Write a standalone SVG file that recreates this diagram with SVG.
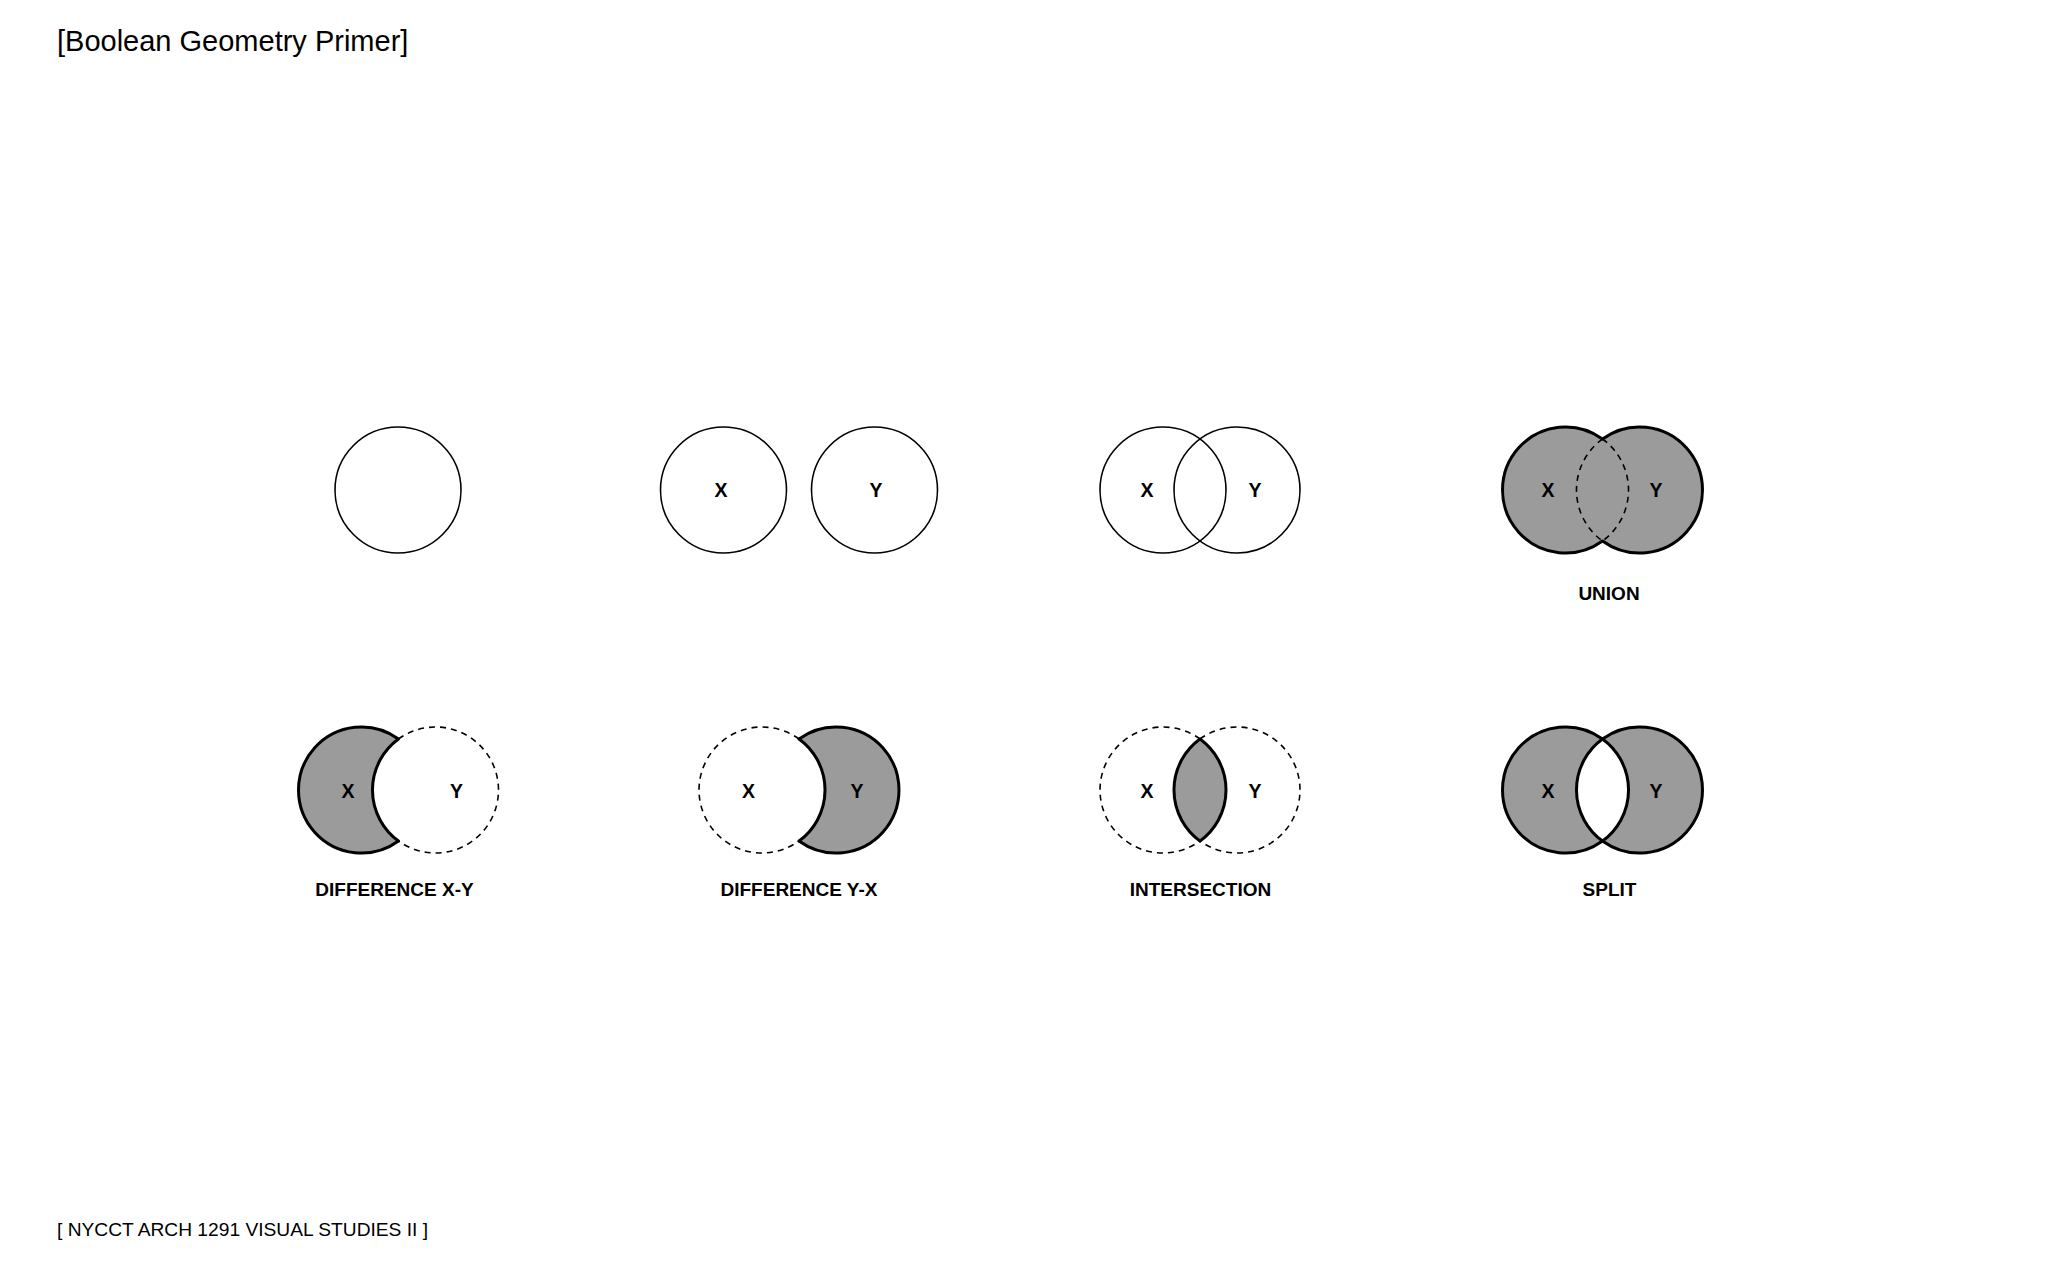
<svg xmlns="http://www.w3.org/2000/svg" width="2048" height="1280" viewBox="0 0 2048 1280">
<style>
.bg{fill:#ffffff}
.plain{fill:none;stroke:#000;stroke-width:1.6}
.solid{fill:#9b9b9b;stroke:#000;stroke-width:3;stroke-linejoin:round}
.dash{fill:none;stroke:#000;stroke-width:1.6;stroke-dasharray:6 5}
.lbl{font-family:"Liberation Sans",Arial,sans-serif;font-weight:bold;font-size:19.5px;text-anchor:middle;fill:#000}
.cap{font-family:"Liberation Sans",Arial,sans-serif;font-weight:bold;font-size:19px;text-anchor:middle;fill:#000}
.title{font-family:"Liberation Sans",Arial,sans-serif;font-size:29px;fill:#000}
.foot{font-family:"Liberation Sans",Arial,sans-serif;font-size:19.2px;fill:#000}
</style>
<rect class="bg" x="0" y="0" width="2048" height="1280"/>
<text id="title" class="title" x="57" y="51">[Boolean Geometry Primer]</text>
<text id="footer" class="foot" x="57" y="1236">[ NYCCT ARCH 1291 VISUAL STUDIES II ]</text>

<g id="single">
<circle class="plain" cx="398" cy="490" r="63"/>
</g>

<g id="pair">
<circle class="plain" cx="723.5" cy="490" r="63"/>
<circle class="plain" cx="874.5" cy="490" r="63"/>
<text class="lbl" x="721" y="497">X</text>
<text class="lbl" x="876" y="497">Y</text>
</g>

<g id="overlap">
<circle class="plain" cx="1163" cy="490" r="63"/>
<circle class="plain" cx="1237" cy="490" r="63"/>
<text class="lbl" x="1147" y="497">X</text>
<text class="lbl" x="1255" y="497">Y</text>
</g>

<g id="union">
<path class="solid" d="M1602.5,439 A63,63 0 1 0 1602.5,541 A63,63 0 1 0 1602.5,439 Z"/>
<path class="dash" d="M1602.5,439 A63,63 0 0 1 1602.5,541 A63,63 0 0 1 1602.5,439 Z"/>
<text class="lbl" x="1548" y="497">X</text>
<text class="lbl" x="1656" y="497">Y</text>
<text class="cap" x="1609" y="600">UNION</text>
</g>

<g id="difference-x-y">
<path class="dash" d="M398.5,739 A63,63 0 1 1 398.5,841"/>
<path class="solid" d="M398.5,739 A63,63 0 1 0 398.5,841 A63,63 0 0 1 398.5,739 Z"/>
<text class="lbl" x="348" y="798">X</text>
<text class="lbl" x="456.5" y="798">Y</text>
<text class="cap" x="394.5" y="896">DIFFERENCE X-Y</text>
</g>

<g id="difference-y-x">
<path class="dash" d="M799,739 A63,63 0 1 0 799,841"/>
<path class="solid" d="M799,739 A63,63 0 1 1 799,841 A63,63 0 0 0 799,739 Z"/>
<text class="lbl" x="748.5" y="798">X</text>
<text class="lbl" x="857" y="798">Y</text>
<text class="cap" x="799" y="896">DIFFERENCE Y-X</text>
</g>

<g id="intersection">
<path class="dash" d="M1200,739 A63,63 0 1 0 1200,841"/>
<path class="dash" d="M1200,739 A63,63 0 1 1 1200,841"/>
<path class="solid" d="M1200,739 A63,63 0 0 1 1200,841 A63,63 0 0 1 1200,739 Z"/>
<text class="lbl" x="1147" y="798">X</text>
<text class="lbl" x="1255" y="798">Y</text>
<text class="cap" x="1200.5" y="896">INTERSECTION</text>
</g>

<g id="split">
<path class="solid" d="M1602.5,739 A63,63 0 1 0 1602.5,841 A63,63 0 0 1 1602.5,739 Z"/>
<path class="solid" d="M1602.5,739 A63,63 0 1 1 1602.5,841 A63,63 0 0 0 1602.5,739 Z"/>
<text class="lbl" x="1548" y="798">X</text>
<text class="lbl" x="1656" y="798">Y</text>
<text class="cap" x="1609.5" y="896">SPLIT</text>
</g>

<g id="connectors"></g>
</svg>
